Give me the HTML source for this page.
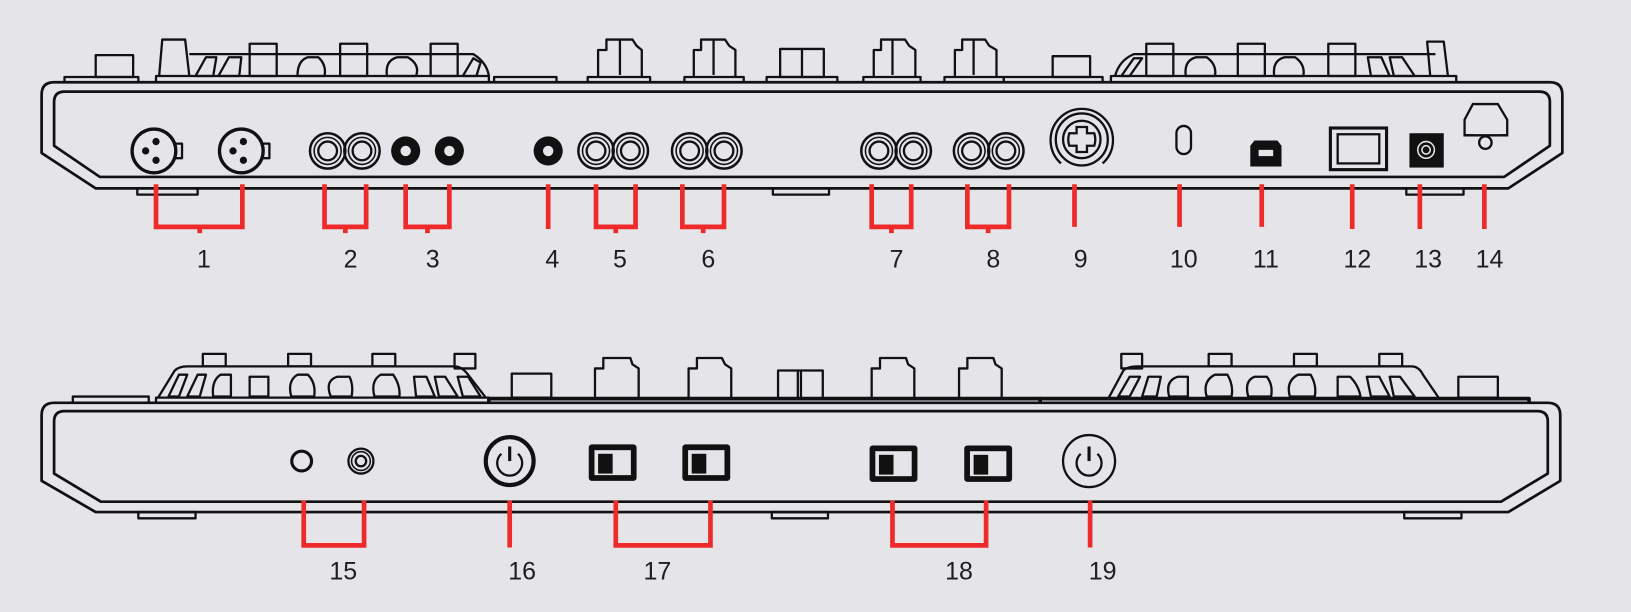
<!DOCTYPE html>
<html><head><meta charset="utf-8"><style>
html,body{margin:0;padding:0;background:#e4e4e9;}
svg{display:block;}
text{font-family:"Liberation Sans",sans-serif;font-size:24px;fill:#1e1e1e;text-anchor:middle;}
</style></head><body>
<svg width="1631" height="612" viewBox="0 0 1568 588" preserveAspectRatio="none" xmlns="http://www.w3.org/2000/svg">
<defs>
<g id="rca" fill="none" stroke="#111"><circle r="17" stroke-width="2.4"/><circle r="13" stroke-width="1.5"/><circle r="9" stroke-width="2.2"/></g>
</defs>
<rect width="1568" height="588" fill="#e4e4e9"/>
<g fill="none" stroke="#111" stroke-width="2.2" stroke-linejoin="round">
<!-- TOP knobs -->
<path d="M62 78 L62 74 L133 74 L133 78"/>
<rect x="92" y="53" width="36" height="21"/>
<path d="M150 78 L150 73 L470 73 L470 78"/>
<path d="M153 73 L156 38 L178 38 L182 73"/>
<path d="M182 52 L455 52 Q468 60 470 73"/>
<rect x="240" y="42" width="26" height="31"/><rect x="327" y="42" width="26" height="31"/><rect x="414" y="42" width="26" height="31"/>
<path d="M188 73 L198 55 L208 55 L205 73 Z M210 73 L220 55 L232 55 L230 73 Z M286 73 Q286 58 296 55 L306 55 Q314 62 312 73 Z M372 73 Q370 58 382 55 L392 55 Q404 62 400 73 Z M445 73 L455 56 L462 60 L458 73 Z"/>
<path d="M475 78 L475 74 L535 74 L535 78"/>
<path d="M565 78 L565 74 L625 74 L625 78"/><path d="M575 74 L575 48 L583 48 L583 38 L608 38 L612 44 L617 48 L617 74"/><line x1="596" y1="38" x2="596" y2="72"/>
<path d="M658 78 L658 74 L715 74 L715 78"/><path d="M667 74 L667 48 L674 48 L674 38 L697 38 L701 44 L707 48 L707 74"/><line x1="686" y1="38" x2="686" y2="72"/>
<path d="M737 78 L737 74 L805 74 L805 78"/><rect x="750" y="47" width="42" height="27"/><line x1="771" y1="47" x2="771" y2="74"/>
<path d="M830 78 L830 74 L885 74 L885 78"/><path d="M840 74 L840 48 L847 48 L847 38 L870 38 L874 44 L880 48 L880 74"/><line x1="858" y1="38" x2="858" y2="72"/>
<path d="M908 78 L908 74 L965 74 L965 78"/><path d="M918 74 L918 48 L925 48 L925 38 L947 38 L951 44 L958 48 L958 74"/><line x1="936" y1="38" x2="936" y2="72"/>
<path d="M965 78 L965 74 L1060 74 L1060 78"/><rect x="1012" y="54" width="36" height="20"/>
<path d="M1068 78 L1068 73 L1400 73 L1400 78"/>
<path d="M1072 73 Q1076 58 1090 52 L1380 52"/>
<rect x="1102" y="42" width="26" height="31"/><rect x="1190" y="42" width="26" height="31"/><rect x="1277" y="42" width="26" height="31"/>
<path d="M1375 73 L1372 40 L1388 40 L1392 73"/>
<path d="M1078 73 L1090 56 L1098 56 L1086 73 Z M1140 73 Q1138 58 1150 55 L1160 55 Q1170 62 1168 73 Z M1225 73 Q1223 58 1235 55 L1245 55 Q1255 62 1253 73 Z M1318 73 L1315 55 L1328 55 L1336 73 Z M1340 73 L1336 55 L1348 55 L1360 73 Z"/>
<!-- TOP body -->
<path d="M52 79 L1490 79 Q1502 79 1502 91 L1502 147 L1450 181 L92 181 L40 147 L40 91 Q40 79 52 79 Z" stroke-width="2.6"/>
<path d="M62 88 L1480 88 Q1490 88 1490 98 L1490 140 L1446 170 L96 170 L52 140 L52 98 Q52 88 62 88 Z" stroke-width="2.6"/>
<rect x="132" y="181" width="58" height="6"/><rect x="743" y="181" width="54" height="6"/><rect x="1352" y="181" width="55" height="6"/>
<!-- XLR -->
<circle cx="148" cy="145" r="21" stroke-width="3.2"/><circle cx="140" cy="145" r="2.4" fill="#111"/><circle cx="150" cy="136" r="2.4" fill="#111"/><circle cx="150" cy="154" r="2.4" fill="#111"/><path d="M169 138 L175 138 L175 152 L169 152"/>
<circle cx="232" cy="145" r="21" stroke-width="3.2"/><circle cx="224" cy="145" r="2.4" fill="#111"/><circle cx="234" cy="136" r="2.4" fill="#111"/><circle cx="234" cy="154" r="2.4" fill="#111"/><path d="M253 138 L259 138 L259 152 L253 152"/>
</g>
<use href="#rca" x="315" y="145"/><use href="#rca" x="348" y="145"/>
<use href="#rca" x="573" y="145"/><use href="#rca" x="606" y="145"/>
<use href="#rca" x="663" y="145"/><use href="#rca" x="696" y="145"/>
<use href="#rca" x="845" y="145"/><use href="#rca" x="878" y="145"/>
<use href="#rca" x="934" y="145"/><use href="#rca" x="967" y="145"/>
<g fill="#111">
<circle cx="390" cy="145" r="14"/><circle cx="432" cy="145" r="14"/><circle cx="527" cy="145" r="14"/>
</g>
<g fill="#e4e4e9"><circle cx="390" cy="145" r="5"/><circle cx="432" cy="145" r="5"/><circle cx="527" cy="145" r="5"/></g>
<g fill="none" stroke="#111" stroke-width="2.2">
<path d="M1020 157 A30 30 0 1 1 1060 157"/><circle cx="1040" cy="134" r="25"/><circle cx="1040" cy="134" r="18"/>
<path d="M1035 122 L1045 122 L1045 128 L1052 128 Q1054 134 1052 140 L1045 140 L1045 146 L1035 146 L1035 140 L1028 140 Q1026 134 1028 128 L1035 128 Z"/>
<rect x="1131" y="121" width="14" height="27" rx="7"/>
<rect x="1279" y="123" width="54" height="40" stroke-width="3"/><rect x="1286" y="129" width="40" height="28"/>
<path d="M1417 130 L1408 130 L1408 115 L1416 100 L1440 100 L1449 115 L1449 130 L1443 130"/><line x1="1408" y1="130" x2="1449" y2="130"/><circle cx="1428" cy="137" r="6"/>
</g>
<path d="M1206 135 L1228 135 L1232 140 L1232 160 L1202 160 L1202 140 Z" fill="#111"/><rect x="1210" y="144" width="14" height="6" fill="#e4e4e9"/>
<rect x="1355" y="128" width="33" height="33" fill="#111"/><circle cx="1371" cy="144" r="8" fill="none" stroke="#e4e4e9" stroke-width="1.5"/><circle cx="1371" cy="144" r="4" fill="none" stroke="#e4e4e9" stroke-width="1.5"/>
<!-- red top -->
<g fill="none" stroke="#ee2a2a" stroke-width="4.5">
<path d="M150 177 V218 H233 V177"/><line x1="192" y1="218" x2="192" y2="224"/>
<path d="M312 177 V218 H352 V177"/><line x1="332" y1="218" x2="332" y2="224"/>
<path d="M390 177 V218 H432 V177"/><line x1="411" y1="218" x2="411" y2="224"/>
<line x1="527" y1="177" x2="527" y2="220"/>
<path d="M573 177 V218 H611 V177"/><line x1="592" y1="218" x2="592" y2="224"/>
<path d="M656 177 V218 H696 V177"/><line x1="676" y1="218" x2="676" y2="224"/>
<path d="M838 177 V218 H876 V177"/><line x1="857" y1="218" x2="857" y2="224"/>
<path d="M930 177 V218 H970 V177"/><line x1="950" y1="218" x2="950" y2="224"/>
<line x1="1033" y1="177" x2="1033" y2="218"/><line x1="1134" y1="177" x2="1134" y2="218"/><line x1="1213" y1="177" x2="1213" y2="218"/>
<line x1="1300" y1="177" x2="1300" y2="220"/><line x1="1365" y1="177" x2="1365" y2="220"/><line x1="1427" y1="177" x2="1427" y2="220"/>
</g>
<text x="196" y="257">1</text><text x="337" y="257">2</text><text x="416" y="257">3</text><text x="531" y="257">4</text><text x="596" y="257">5</text><text x="681" y="257">6</text><text x="862" y="257">7</text><text x="955" y="257">8</text><text x="1039" y="257">9</text><text x="1138" y="257">10</text><text x="1217" y="257">11</text><text x="1305" y="257">12</text><text x="1373" y="257">13</text><text x="1432" y="257">14</text>
<!-- BOTTOM -->
<g fill="none" stroke="#111" stroke-width="2.2" stroke-linejoin="round">
<path d="M70 387 L70 381 L143 381 L143 387"/>
<path d="M150 387 L150 382 L470 382 L470 387"/>
<path d="M152 382 L168 356 Q172 352 180 352 L437 352 Q444 352 450 360 L467 382"/>
<rect x="195" y="340" width="22" height="12"/><rect x="277" y="340" width="22" height="12"/><rect x="358" y="340" width="22" height="12"/><rect x="437" y="340" width="20" height="14"/>
<path d="M162 381 L172 360 L180 360 L172 381 Z M180 381 L190 360 L198 360 L192 381 Z M205 381 Q203 366 212 360 L222 360 L222 381 Z M240 381 L240 362 L258 362 L258 381 Z M280 381 Q276 366 286 360 L296 360 Q304 368 302 381 Z M318 381 Q312 366 324 362 L336 362 Q340 370 338 381 Z M360 381 Q356 366 366 360 L378 360 Q385 370 384 381 Z M400 381 L398 362 L410 362 L418 381 Z M422 381 L418 362 L428 362 L440 381 Z M445 381 L440 362 L450 362 L462 381 Z"/>
<rect x="492" y="359" width="38" height="23"/>
<path d="M470 388 L470 383 L1000 383 L1000 388" stroke-width="3.5"/>
<path d="M572 383 L572 354 L580 354 L580 344 L606 344 L608 350 L614 354 L614 383"/>
<path d="M662 383 L662 354 L670 354 L670 344 L694 344 L697 350 L703 354 L703 383"/>
<rect x="748" y="356" width="43" height="27"/><line x1="767" y1="356" x2="767" y2="383"/><line x1="770" y1="356" x2="770" y2="383"/>
<path d="M838 383 L838 354 L846 354 L846 344 L871 344 L873 350 L879 354 L879 383"/>
<path d="M922 383 L922 354 L930 354 L930 344 L955 344 L957 350 L963 354 L963 383"/>
<path d="M1000 388 L1000 383 L1470 383 L1470 388" stroke-width="3.5"/>
<path d="M1066 382 L1080 356 Q1084 352 1094 352 L1357 352 Q1364 352 1368 360 L1383 382"/>
<rect x="1078" y="340" width="20" height="14"/><rect x="1162" y="340" width="22" height="12"/><rect x="1244" y="340" width="22" height="12"/><rect x="1326" y="340" width="22" height="12"/>
<path d="M1075 381 L1086 362 L1096 362 L1086 381 Z M1098 381 L1104 362 L1116 362 L1112 381 Z M1124 381 Q1120 366 1132 362 L1142 362 L1142 381 Z M1160 381 Q1156 366 1168 360 L1180 360 Q1186 370 1184 381 Z M1200 381 Q1196 366 1206 362 L1218 362 Q1224 370 1222 381 Z M1240 381 Q1236 366 1248 360 L1260 360 Q1266 370 1264 381 Z M1286 381 L1286 362 L1298 362 Q1306 370 1308 381 Z M1318 381 L1314 362 L1326 362 L1336 381 Z M1340 381 L1336 362 L1346 362 L1360 381 Z"/>
<rect x="1402" y="362" width="38" height="20"/>
<path d="M52 387 L1488 387 Q1500 387 1500 399 L1500 462 L1450 492 L92 492 L40 462 L40 399 Q40 387 52 387 Z" stroke-width="2.6"/>
<path d="M62 395 L1478 395 Q1488 395 1488 405 L1488 455 L1443 482 L97 482 L52 455 L52 405 Q52 395 62 395 Z" stroke-width="2.6"/>
<rect x="133" y="492" width="55" height="6"/><rect x="742" y="492" width="54" height="6"/><rect x="1350" y="492" width="55" height="6"/>
<circle cx="290" cy="443" r="9.5" stroke-width="3"/>
<circle cx="347" cy="443" r="12"/><circle cx="347" cy="443" r="9" stroke-width="1.5"/><circle cx="347" cy="443" r="5"/>
<circle cx="490" cy="443" r="23" stroke-width="4"/><path d="M482 436 A12 12 0 1 0 498 436"/><line x1="490" y1="429" x2="490" y2="443" stroke-width="3"/>
<circle cx="1047" cy="443" r="25"/><path d="M1039 436 A12 12 0 1 0 1055 436"/><line x1="1047" y1="429" x2="1047" y2="443" stroke-width="3"/>
</g>
<g fill="#111">
<rect x="566" y="427" width="46" height="35" rx="3"/><rect x="656" y="427" width="46" height="35" rx="3"/>
<rect x="836" y="428" width="46" height="35" rx="3"/><rect x="927" y="428" width="46" height="35" rx="3"/>
</g>
<g fill="#e4e4e9" stroke="#111" stroke-width="1">
<rect x="571" y="432" width="36" height="25"/><rect x="661" y="432" width="36" height="25"/><rect x="841" y="433" width="36" height="25"/><rect x="932" y="433" width="36" height="25"/>
</g>
<g fill="#111">
<rect x="575" y="436" width="14" height="19"/><rect x="665" y="436" width="14" height="19"/><rect x="845" y="437" width="14" height="19"/><rect x="936" y="437" width="14" height="19"/>
</g>
<g fill="none" stroke="#ee2a2a" stroke-width="4.5">
<path d="M292 481 V524 H350 V481"/>
<line x1="490" y1="481" x2="490" y2="526"/>
<path d="M592 481 V524 H683 V481"/>
<path d="M858 481 V524 H948 V481"/>
<line x1="1048" y1="481" x2="1048" y2="526"/>
</g>
<text x="330" y="557">15</text><text x="502" y="557">16</text><text x="632" y="557">17</text><text x="922" y="557">18</text><text x="1060" y="557">19</text>
</svg>
</body></html>
